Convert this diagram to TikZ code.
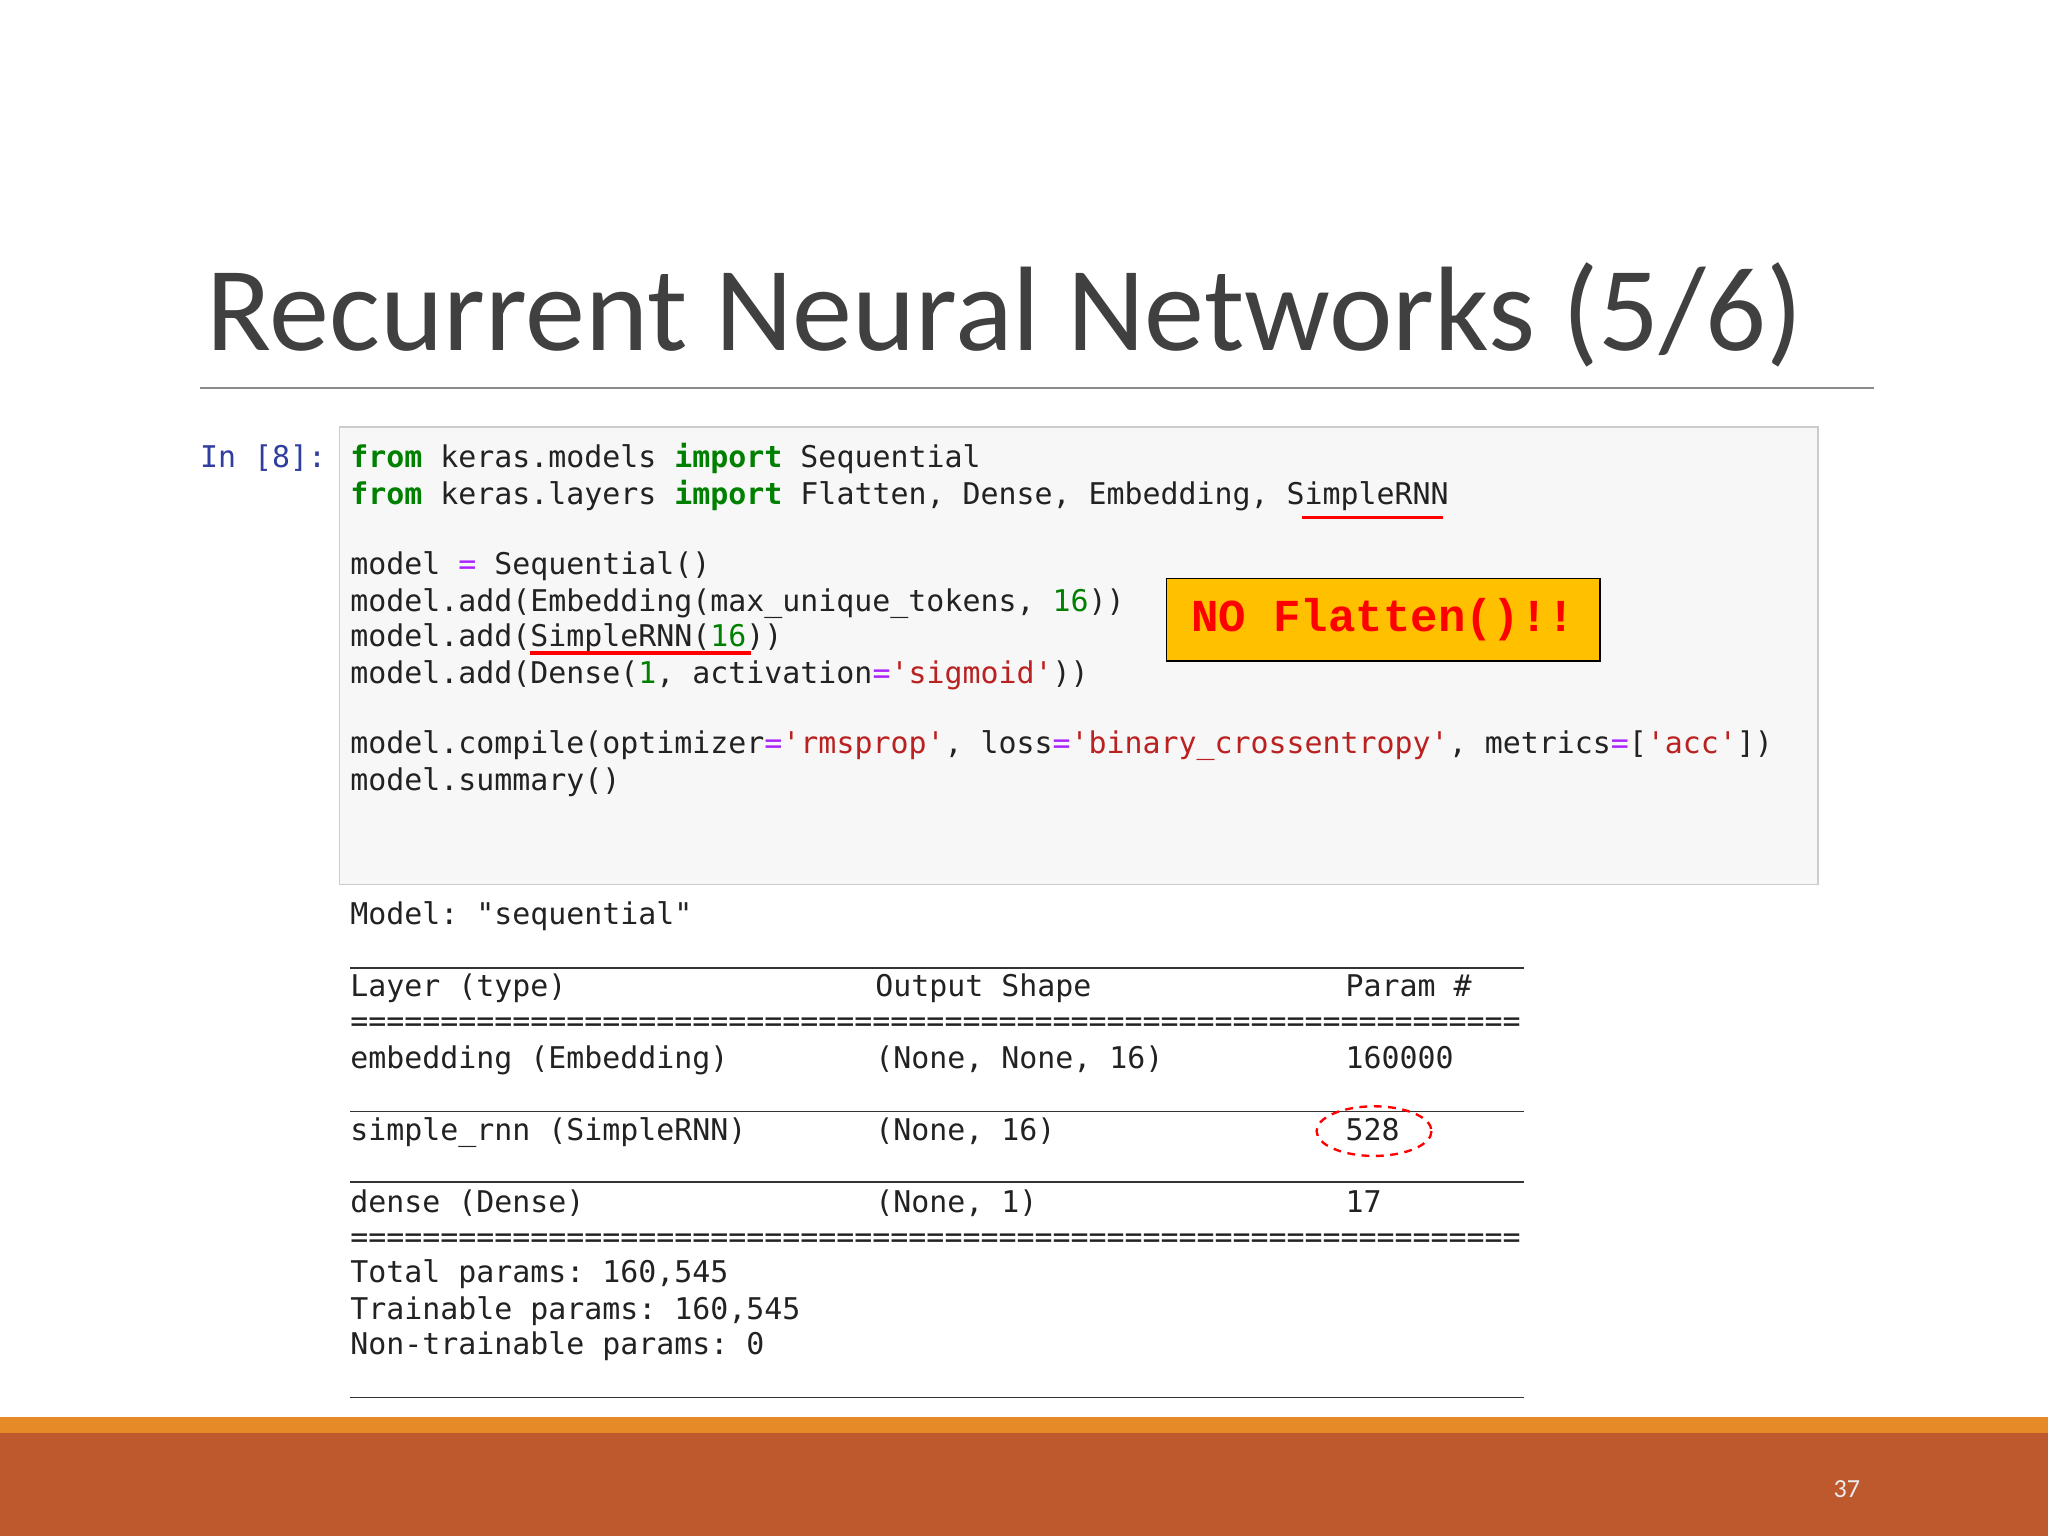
\documentclass[tikz,border=0pt]{standalone}
\usepackage{fontspec}
\setmainfont{Carlito}
\setmonofont{DejaVu Sans Mono}
\newfontfamily\slab{Liberation Mono}
\definecolor{kwg}{HTML}{008000}
\definecolor{strr}{HTML}{BA2121}
\definecolor{opp}{HTML}{AA22FF}
\definecolor{inb}{HTML}{303F9F}
\definecolor{codetxt}{HTML}{222222}
\definecolor{barO}{HTML}{E58A26}
\definecolor{barR}{HTML}{BE582D}
\definecolor{calloutY}{HTML}{FFC000}
\newcommand{\kw}[1]{\textcolor{kwg}{\bfseries #1}}
\newcommand{\op}[1]{\textcolor{opp}{#1}}
\newcommand{\st}[1]{\textcolor{strr}{#1}}
\newcommand{\nm}[1]{\textcolor{kwg}{#1}}
\tikzset{code/.style={anchor=base west,inner sep=0pt,text=codetxt,font=\ttfamily\fontsize{22.9}{27}\selectfont},
 rule/.style={draw=black!80,line width=1pt},
 redul/.style={draw=red,line width=2.5pt}}
\begin{document}
\begin{tikzpicture}[x=1pt,y=-1pt]
\useasboundingbox (0,0) rectangle (1568,1176);
\fill[white] (0,0) rectangle (1568,1176);
% title
\node[anchor=base west,inner sep=0pt,text=black!75,font=\fontsize{92}{100}\selectfont] (title) at (158,268) {Recurrent Neural Networks (5/6)};
\draw[draw=black!45,line width=1pt] (153,297) -- (1435,297);
% code cell
\node[code,text=inb] (in) at (153,358) {In [8]:};
\draw[fill=black!3,draw=black!20,line width=1pt] (260,327) rectangle (1392,677);
\node[code] (l1) at (268,358) {\kw{from} keras.models \kw{import} Sequential};
\node[code] (l2) at (268,386) {\kw{from} keras.layers \kw{import} Flatten, Dense, Embedding, SimpleRNN};
\node[code] (l3) at (268,440) {model \op{=} Sequential()};
\node[code] (l4) at (268,468) {model.add(Embedding(max\_unique\_tokens, \nm{16}))};
\node[code] (l5) at (268,495) {model.add(SimpleRNN(\nm{16}))};
\node[code] (l6) at (268,523) {model.add(Dense(\nm{1}, activation\op{=}\st{'sigmoid'}))};
\node[code] (l7) at (268,577) {model.compile(optimizer\op{=}\st{'rmsprop'}, loss\op{=}\st{'binary\_crossentropy'}, metrics\op{=}[\st{'acc'}])};
\node[code] (l8) at (268,605) {model.summary()};
\draw[redul] (997,396) -- (1105,396);
\draw[redul] (406,500) -- (575,500);
% callout
\node[draw=black,line width=1.2pt,fill=calloutY,minimum width=332pt,minimum height=63pt,inner sep=0pt,text=red,font=\slab\bfseries\fontsize{35}{40}\selectfont] (nof) at (1059,474.5) {NO Flatten()!!};
% output
\node[code] (m) at (268,708) {Model: "sequential"};
\draw[rule] (268,741) -- (1167,741);
\node[code] (h1) at (268,763) {Layer (type)};
\node[code] (h2) at (670,763) {Output Shape};
\node[code] (h3) at (1030,763) {Param \#};
\node[code] (eq1) at (268,790) {=================================================================};
\node[code] (r1a) at (268,818) {embedding (Embedding)};
\node[code] (r1b) at (670,818) {(None, None, 16)};
\node[code] (r1c) at (1030,818) {160000};
\draw[rule] (268,851) -- (1167,851);
\node[code] (r2a) at (268,873) {simple\_rnn (SimpleRNN)};
\node[code] (r2b) at (670,873) {(None, 16)};
\node[code] (r2c) at (1030,873) {528};
\draw[rule] (268,905) -- (1167,905);
\node[code] (r3a) at (268,928) {dense (Dense)};
\node[code] (r3b) at (670,928) {(None, 1)};
\node[code] (r3c) at (1030,928) {17};
\node[code] (eq2) at (268,955) {=================================================================};
\node[code] (t1) at (268,982) {Total params: 160,545};
\node[code] (t2) at (268,1010) {Trainable params: 160,545};
\node[code] (t3) at (268,1037) {Non-trainable params: 0};
\draw[rule] (268,1070) -- (1167,1070);
\draw[red,line width=1.8pt,dash pattern=on 6pt off 5pt] (1052,866) ellipse [x radius=44,y radius=19];
% bottom bar
\fill[barO] (0,1085) rectangle (1568,1098);
\fill[barR] (0,1097) rectangle (1568,1176);
\node[anchor=center,inner sep=0pt,text=white!92!black,font=\fontsize{20}{24}\selectfont] (pg) at (1414,1140) {37};
\end{tikzpicture}
\end{document}
